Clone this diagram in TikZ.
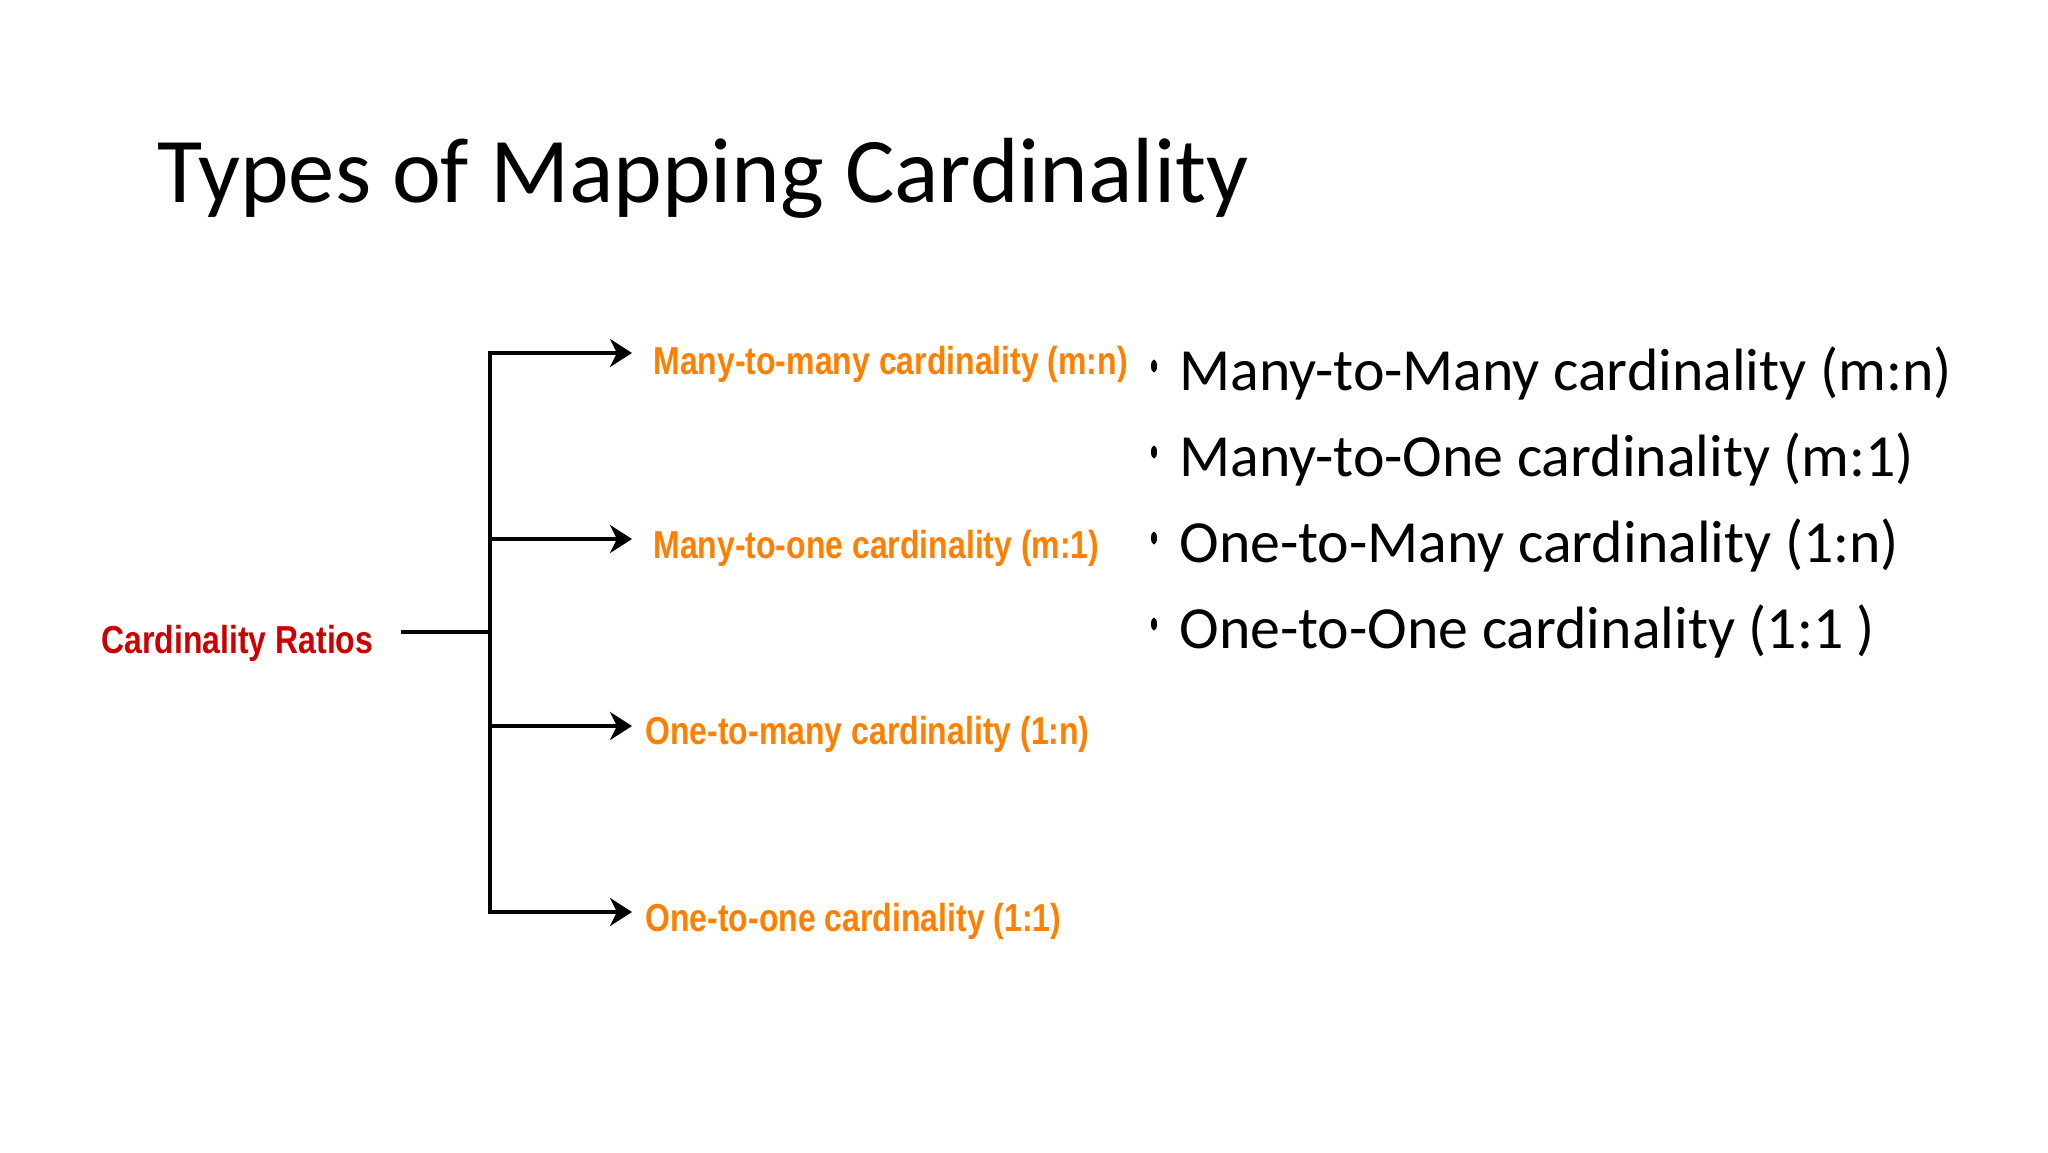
\documentclass[tikz,border=0pt]{standalone}
\usepackage{fontspec}
\setmainfont{Carlito}
\newfontfamily\arialnb{Liberation Sans}[FakeStretch=0.82, UprightFont={* Bold}]
\usetikzlibrary{arrows.meta,shapes.geometric}
\definecolor{ratiored}{RGB}{204,0,0}
\definecolor{kindorange}{RGB}{255,128,0}
\tikzset{
  titletext/.style={anchor=base west, inner sep=0pt, font=\fontsize{46.3}{56}\selectfont},
  bullettext/.style={anchor=base west, inner sep=0pt, font=\fontsize{29.9}{36}\selectfont},
  rootlabel/.style={anchor=base west, inner sep=0pt, text=ratiored, font=\arialnb\fontsize{19.5}{23}\selectfont},
  kindlabel/.style={anchor=base west, inner sep=0pt, text=kindorange, font=\arialnb\fontsize{19.5}{23}\selectfont},
  wire/.style={line width=1.9pt, black},
  arr/.style={wire, -{Stealth[length=11pt, width=14pt, inset=3.5pt]}},
  bulletmark/.style={ellipse, fill=black, inner sep=0pt, minimum width=3pt, minimum height=6.5pt},
}
\begin{document}
\begin{tikzpicture}[x=0.5pt, y=-0.5pt]
\useasboundingbox[fill=white] (0,0) rectangle (2048,1152);

% title
\node[titletext] (title) at (157,202) {Types of Mapping Cardinality};

% tree
\node[rootlabel] (root) at (101,653) {Cardinality Ratios};
\node[kindlabel] (k1) at (653,374) {Many-to-many cardinality (m:n)};
\node[kindlabel] (k2) at (653,558) {Many-to-one cardinality (m:1)};
\node[kindlabel] (k3) at (645,744) {One-to-many cardinality (1:n)};
\node[kindlabel] (k4) at (645,931) {One-to-one cardinality (1:1)};

\coordinate (stub) at (401,632);
\coordinate (jroot) at (490,632);
\coordinate (j1) at (490,353);
\coordinate (j2) at (490,539);
\coordinate (j3) at (490,726);
\coordinate (j4) at (490,912);

\draw[wire] (stub) -- (jroot);
\draw[wire, line cap=rect] (j1) -- (j4);
\draw[arr, shorten >=10.5pt] (j1) -- (j1 -| k1.west);
\draw[arr, shorten >=10.5pt] (j2) -- (j2 -| k2.west);
\draw[arr, shorten >=6.5pt] (j3) -- (j3 -| k3.west);
\draw[arr, shorten >=6.5pt] (j4) -- (j4 -| k4.west);

% bullet list
\node[bulletmark] (b1) at (1154,366) {};
\node[bulletmark] (b2) at (1154,452) {};
\node[bulletmark] (b3) at (1154,538) {};
\node[bulletmark] (b4) at (1154,624) {};
\node[bullettext] (l1) at (1179,390) {Many-to-Many cardinality (m:n)};
\node[bullettext] (l2) at (1179,476) {Many-to-One cardinality (m:1)};
\node[bullettext] (l3) at (1179,562) {One-to-Many cardinality (1:n)};
\node[bullettext] (l4) at (1179,648) {One-to-One cardinality (1:1 )};
\end{tikzpicture}
\end{document}
